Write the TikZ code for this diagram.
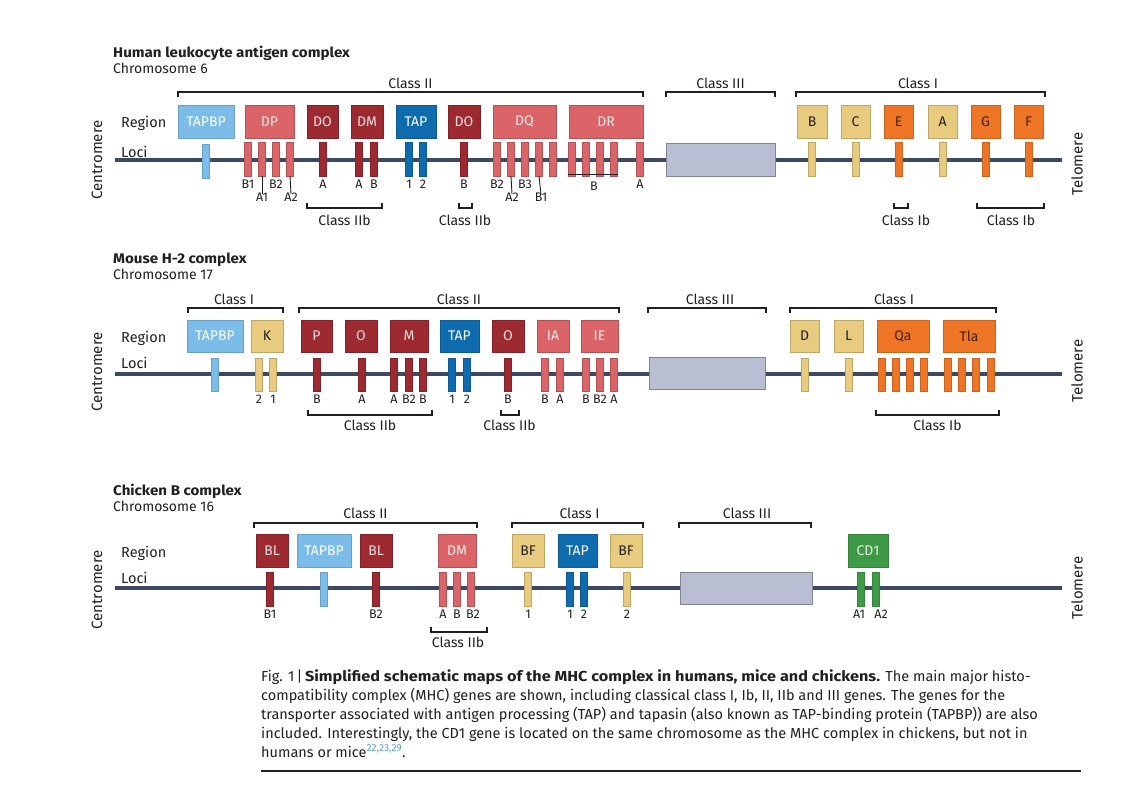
\documentclass[tikz,border=0pt]{standalone}
\usepackage{fontspec}
\setmainfont{Fira Sans}
\usepackage{tikz}

\definecolor{chromc}{HTML}{3D4863}
\definecolor{inkc}{HTML}{231F20}
\definecolor{ltbc}{HTML}{7BBDE8}
\definecolor{salc}{HTML}{DA6468}
\definecolor{winec}{HTML}{9E2A31}
\definecolor{tapc}{HTML}{0E6BAE}
\definecolor{sandc}{HTML}{E8CB7E}
\definecolor{orngc}{HTML}{EE7526}
\definecolor{grnc}{HTML}{3F9A47}
\definecolor{cthreec}{HTML}{B9BED2}
\definecolor{refc}{HTML}{5B9BD5}

\newcommand{\headbold}{\bfseries\addfontfeature{FakeStretch=1.08}}
\newcommand{\capbold}[1]{{\bfseries\addfontfeature{FakeStretch=1.12}#1}}

\tikzset{
  chrom/.style={line width=4pt, draw=chromc},
  region/.style={inner sep=0pt, minimum height=33pt, font=\fontsize{14}{15}\selectfont},
  locus/.style={inner sep=0pt, minimum width=7pt, minimum height=34pt},
  loc/.style={inner sep=0pt, text=inkc, font=\fontsize{12.5}{13}\selectfont},
  lab/.style={loc, yshift=-3.5pt},
  ltb/.style={fill=ltbc, draw=ltbc!85!black, text=white},
  sal/.style={fill=salc, draw=salc!82!black, text=white!85!salc},
  wine/.style={fill=winec, draw=winec!82!black, text=white!85!winec},
  tapb/.style={fill=tapc, draw=tapc!85!black, text=white},
  sand/.style={fill=sandc, draw=sandc!82!black, text=inkc},
  orng/.style={fill=orngc, draw=orngc!85!black, text=black!70!orngc},
  grn/.style={fill=grnc, draw=grnc!85!black, text=white!85!grnc},
  cthree/.style={fill=cthreec, draw=cthreec!70!black, inner sep=0pt},
  brk/.style={draw=inkc, line width=1.1pt},
  cls/.style={anchor=base, inner sep=0pt, text=inkc, font=\fontsize{14}{15}\selectfont},
  head/.style={anchor=base west, inner sep=0pt, text=inkc, font=\fontsize{14}{15}\selectfont},
  rowlab/.style={anchor=base west, inner sep=0pt, text=inkc, font=\fontsize{14.5}{15}\selectfont},
  side/.style={rotate=90, inner sep=0pt, text=inkc, font=\fontsize{15}{15}\selectfont},
  capt/.style={anchor=base west, inner sep=0pt, text=inkc, font=\fontsize{14.5}{19}\selectfont}
}

\begin{document}
\begin{tikzpicture}[x=1pt,y=-1pt]
\useasboundingbox[fill=white] (0,0) rectangle (1131,790);

% human
\node[head] (htitle) at (113,57) {\headbold Human leukocyte antigen complex};
\node[head] (hchrom) at (113,73) {Chromosome 6};
\node[rowlab] (hreg) at (121,127) {Region};
\node[rowlab] (hloci) at (121,157) {Loci};
\node[side] (hcen) at (97,160) {Centromere};
\node[side] (htel) at (1077,164) {Telomere};
\coordinate (hl) at (115,160);
\coordinate (hr) at (1062,160);
\draw[chrom] (hl) -- (hr);

\draw[brk] (178,97) -- (178,92) -- (643,92) -- (643,97);
\draw[brk] (666,97) -- (666,92) -- (775,92) -- (775,97);
\draw[brk] (796,97) -- (796,92) -- (1045,92) -- (1045,97);
\node[cls] (hcII) at (410.5,88) {Class II};
\node[cls] (hcIII) at (720.5,88) {Class III};
\node[cls] (hcI) at (918,88) {Class I};

\node[region, ltb, minimum width=56pt] (hTAPBP) at (206,121.5) {TAPBP};
\node[region, sal, minimum width=49pt] (hDP) at (269.5,121.5) {DP};
\node[region, wine, minimum width=31pt] (hDO) at (322.5,121.5) {DO};
\node[region, wine, minimum width=32pt] (hDM) at (367,121.5) {DM};
\node[region, tapb, minimum width=40pt] (hTAP) at (416,121.5) {TAP};
\node[region, wine, minimum width=32pt] (hDOb) at (464,121.5) {DO};
\node[region, sal, minimum width=63pt] (hDQ) at (524.5,121.5) {DQ};
\node[region, sal, minimum width=74pt] (hDR) at (606,121.5) {DR};
\node[region, sand, minimum width=30pt] (hB) at (812,121.5) {B};
\node[region, sand, minimum width=29pt] (hC) at (855.5,121.5) {C};
\node[region, orng, minimum width=29pt] (hE) at (898.5,121.5) {E};
\node[region, sand, minimum width=29pt] (hA) at (942.5,121.5) {A};
\node[region, orng, minimum width=29pt] (hG) at (985.5,121.5) {G};
\node[region, orng, minimum width=29pt] (hF) at (1028.5,121.5) {F};

\node[locus, ltb] (htapbp) at (205.5,161) {};
\node[locus, sal, label={[lab]below:B1}] (hdp1) at (248,159) {};
\node[locus, sal] (hdp2) at (262,159) {};
\node[locus, sal, label={[lab]below:B2}] (hdp3) at (276,159) {};
\node[locus, sal] (hdp4) at (290,159) {};
\node[locus, wine, label={[lab]below:A}] (hdo1) at (323,159) {};
\node[locus, wine, label={[lab]below:A}] (hdm1) at (359,159) {};
\node[locus, wine, label={[lab]below:B}] (hdm2) at (374,159) {};
\node[locus, tapb, label={[lab]below:1}] (htap1) at (409,159) {};
\node[locus, tapb, label={[lab]below:2}] (htap2) at (423,159) {};
\node[locus, wine, label={[lab]below:B}] (hdo2) at (464,159) {};
\node[locus, sal, label={[lab]below:B2}] (hdq1) at (497,159) {};
\node[locus, sal] (hdq2) at (511,159) {};
\node[locus, sal, label={[lab]below:B3}] (hdq3) at (525,159) {};
\node[locus, sal] (hdq4) at (539,159) {};
\node[locus, sal] (hdq5) at (553,159) {};
\node[locus, sal] (hdr1) at (572,159) {};
\node[locus, sal] (hdr2) at (586,159) {};
\node[locus, sal] (hdr3) at (600,159) {};
\node[locus, sal] (hdr4) at (614,159) {};
\node[locus, sal, label={[lab]below:A}] (hdr5) at (640,159) {};
\node[cthree, minimum width=109pt, minimum height=33pt] (hclassthree) at (720.5,159.5) {};
\node[locus, sand] (hb1) at (812,159) {};
\node[locus, sand] (hc1) at (856,159) {};
\node[locus, orng] (he1) at (899,159) {};
\node[locus, sand] (ha1) at (943,159) {};
\node[locus, orng] (hg1) at (986,159) {};
\node[locus, orng] (hf1) at (1029,159) {};

\node[loc, anchor=base] (hA1) at (262,201) {A1};
\node[loc, anchor=base] (hA2) at (291,201) {A2};
\node[loc, anchor=base] (hdqA2) at (512,201) {A2};
\node[loc, anchor=base] (hdqB1) at (541,201) {B1};
\node[loc, anchor=base] (hdrB) at (594,190) {B};
\draw[brk, line width=0.9pt] (hdp2.south) -- ([yshift=-2pt]hA1.north);
\draw[brk, line width=0.9pt] (hdp4.south) -- ([yshift=-2pt]hA2.north);
\draw[brk, line width=0.9pt] (hdq2.south) -- ([yshift=-2pt]hdqA2.north);
\draw[brk, line width=0.9pt] (hdq4.south) -- ([yshift=-2pt]hdqB1.north);
\draw[brk, line width=0.9pt] ([yshift=2pt]hdr1.south west) -- ([yshift=2pt]hdr4.south east);

\draw[brk] (307,203) -- (307,208) -- (382,208) -- (382,203);
\draw[brk] (459,203) -- (459,208) -- (472,208) -- (472,203);
\draw[brk] (894,203) -- (894,208) -- (908,208) -- (908,203);
\draw[brk] (977,203) -- (977,208) -- (1044,208) -- (1044,203);
\node[cls] (hcIIb) at (344.5,225) {Class IIb};
\node[cls] (hcIIbb) at (465,225) {Class IIb};
\node[cls] (hcIb) at (906,225) {Class Ib};
\node[cls] (hcIbb) at (1011,225) {Class Ib};

% mouse
\node[head] (mtitle) at (113,263) {\headbold Mouse H-2 complex};
\node[head] (mchrom) at (113,279) {Chromosome 17};
\node[rowlab] (mreg) at (121,342) {Region};
\node[rowlab] (mloci) at (121,368) {Loci};
\node[side] (mcen) at (97,372) {Centromere};
\node[side] (mtel) at (1077,371) {Telomere};
\coordinate (ml) at (115,374);
\coordinate (mr) at (1062,374);
\draw[chrom] (ml) -- (mr);

\draw[brk] (188,313) -- (188,308) -- (283,308) -- (283,313);
\draw[brk] (299,313) -- (299,308) -- (619,308) -- (619,313);
\draw[brk] (648,313) -- (648,308) -- (766,308) -- (766,313);
\draw[brk] (790,313) -- (790,308) -- (996,308) -- (996,313);
\node[cls] (mcI) at (234,304) {Class I};
\node[cls] (mcII) at (459,304) {Class II};
\node[cls] (mcIII) at (710,304) {Class III};
\node[cls] (mcIb) at (894,304) {Class I};

\node[region, ltb, minimum width=56pt, minimum height=32pt] (mTAPBP) at (215,336) {TAPBP};
\node[region, sand, minimum width=32pt, minimum height=32pt] (mK) at (267,336) {K};
\node[region, wine, minimum width=31pt, minimum height=32pt] (mP) at (316.5,336) {P};
\node[region, wine, minimum width=32pt, minimum height=32pt] (mO) at (361,336) {O};
\node[region, wine, minimum width=38pt, minimum height=32pt] (mM) at (409,336) {M};
\node[region, tapb, minimum width=39pt, minimum height=32pt] (mTAP) at (459.5,336) {TAP};
\node[region, wine, minimum width=32pt, minimum height=32pt] (mOb) at (508,336) {O};
\node[region, sal, minimum width=32pt, minimum height=32pt] (mIA) at (553,336) {IA};
\node[region, sal, minimum width=37pt, minimum height=32pt] (mIE) at (599.5,336) {IE};
\node[region, sand, minimum width=29pt, minimum height=32pt] (mD) at (804.5,336) {D};
\node[region, sand, minimum width=29pt, minimum height=32pt] (mL) at (848.5,336) {L};
\node[region, orng, minimum width=52pt, minimum height=32pt] (mQa) at (903,336) {Qa};
\node[region, orng, minimum width=52pt, minimum height=32pt] (mTla) at (969,336) {Tla};

\node[locus, ltb, minimum height=33pt] (mtapbp) at (215,374.5) {};
\node[locus, sand, minimum height=33pt, label={[lab]below:2}] (mk1) at (259,374.5) {};
\node[locus, sand, minimum height=33pt, label={[lab]below:1}] (mk2) at (273,374.5) {};
\node[locus, wine, minimum height=33pt, label={[lab]below:B}] (mp1) at (317,374.5) {};
\node[locus, wine, minimum height=33pt, label={[lab]below:A}] (mo1) at (362,374.5) {};
\node[locus, wine, minimum height=33pt, label={[lab]below:A}] (mm1) at (394,374.5) {};
\node[locus, wine, minimum height=33pt, label={[lab]below:B2}] (mm2) at (409,374.5) {};
\node[locus, wine, minimum height=33pt, label={[lab]below:B}] (mm3) at (423,374.5) {};
\node[locus, tapb, minimum height=33pt, label={[lab]below:1}] (mtap1) at (452,374.5) {};
\node[locus, tapb, minimum height=33pt, label={[lab]below:2}] (mtap2) at (467,374.5) {};
\node[locus, wine, minimum height=33pt, label={[lab]below:B}] (mo2) at (508,374.5) {};
\node[locus, sal, minimum height=33pt, label={[lab]below:B}] (mia1) at (545,374.5) {};
\node[locus, sal, minimum height=33pt, label={[lab]below:A}] (mia2) at (560,374.5) {};
\node[locus, sal, minimum height=33pt, label={[lab]below:B}] (mie1) at (586,374.5) {};
\node[locus, sal, minimum height=33pt, label={[lab]below:B2}] (mie2) at (600,374.5) {};
\node[locus, sal, minimum height=33pt, label={[lab]below:A}] (mie3) at (614,374.5) {};
\node[cthree, minimum width=116pt, minimum height=32pt] (mclassthree) at (707,373) {};
\node[locus, sand, minimum height=33pt] (md1) at (805,374.5) {};
\node[locus, sand, minimum height=33pt] (ml1) at (849,374.5) {};
\node[locus, orng, minimum height=33pt] (mqa1) at (882,374.5) {};
\node[locus, orng, minimum height=33pt] (mqa2) at (896,374.5) {};
\node[locus, orng, minimum height=33pt] (mqa3) at (910,374.5) {};
\node[locus, orng, minimum height=33pt] (mqa4) at (924,374.5) {};
\node[locus, orng, minimum height=33pt] (mtla1) at (948,374.5) {};
\node[locus, orng, minimum height=33pt] (mtla2) at (962,374.5) {};
\node[locus, orng, minimum height=33pt] (mtla3) at (976,374.5) {};
\node[locus, orng, minimum height=33pt] (mtla4) at (991,374.5) {};

\draw[brk] (308,410) -- (308,415) -- (432,415) -- (432,410);
\draw[brk] (501,410) -- (501,415) -- (519,415) -- (519,410);
\draw[brk] (876,410) -- (876,415) -- (999,415) -- (999,410);
\node[cls] (mcIIb) at (370,430) {Class IIb};
\node[cls] (mcIIbb) at (509.5,430) {Class IIb};
\node[cls] (mcIbb) at (937.5,430) {Class Ib};

% chicken
\node[head] (ctitle) at (113,495) {\headbold Chicken B complex};
\node[head] (cchrom) at (113,511) {Chromosome 16};
\node[rowlab] (creg) at (121,557) {Region};
\node[rowlab] (cloci) at (121,583) {Loci};
\node[side] (ccen) at (97,590) {Centromere};
\node[side] (ctel) at (1077,588) {Telomere};
\coordinate (cl) at (115,588);
\coordinate (cr) at (1062,588);
\draw[chrom] (cl) -- (cr);

\draw[brk] (254,528) -- (254,523) -- (477,523) -- (477,528);
\draw[brk] (512,528) -- (512,523) -- (643,523) -- (643,528);
\draw[brk] (679,528) -- (679,523) -- (811,523) -- (811,528);
\node[cls] (ccII) at (365.5,518) {Class II};
\node[cls] (ccI) at (579.5,518) {Class I};
\node[cls] (ccIII) at (747,518) {Class III};

\node[region, wine, minimum width=32pt] (cBL) at (272,550.5) {BL};
\node[region, ltb, minimum width=54pt] (cTAPBP) at (324,550.5) {TAPBP};
\node[region, wine, minimum width=32pt] (cBLb) at (376,550.5) {BL};
\node[region, sal, minimum width=38pt] (cDM) at (457,550.5) {DM};
\node[region, sand, minimum width=32pt] (cBF) at (528,550.5) {BF};
\node[region, tapb, minimum width=39pt] (cTAP) at (577.5,550.5) {TAP};
\node[region, sand, minimum width=32pt] (cBFb) at (626,550.5) {BF};
\node[region, grn, minimum width=40pt] (cCD) at (868,550.5) {CD1};

\node[locus, wine, label={[lab]below:B1}] (cbl1) at (270,589) {};
\node[locus, ltb] (ctapbp) at (324,589.5) {};
\node[locus, wine, label={[lab]below:B2}] (cbl2) at (376,589) {};
\node[locus, sal, label={[lab]below:A}] (cdm1) at (443,589) {};
\node[locus, sal, label={[lab]below:B}] (cdm2) at (457,589) {};
\node[locus, sal, label={[lab, xshift=2pt]below:B2}] (cdm3) at (471,589) {};
\node[locus, sand, label={[lab]below:1}] (cbf1) at (528,589) {};
\node[locus, tapb, label={[lab]below:1}] (ctap1) at (570,589) {};
\node[locus, tapb, label={[lab]below:2}] (ctap2) at (584,589) {};
\node[locus, sand, label={[lab]below:2}] (cbf2) at (627,589) {};
\node[cthree, minimum width=132pt, minimum height=32pt] (cclassthree) at (746,588) {};
\node[locus, grn, label={[lab, xshift=-2pt]below:A1}] (ccd1) at (861,589) {};
\node[locus, grn, label={[lab, xshift=5pt]below:A2}] (ccd2) at (876,589) {};

\draw[brk] (431,627) -- (431,632) -- (487,632) -- (487,627);
\node[cls] (ccIIb) at (458,647) {Class IIb};

% caption
\node[capt] (cap1) at (261,681) {Fig. 1\,|\,\capbold{Simplified schematic maps of the MHC complex in humans, mice and chickens.} The main major histo-};
\node[capt] (cap2) at (261,700) {compatibility complex (MHC) genes are shown, including classical class I, Ib, II, IIb and III genes. The genes for the};
\node[capt] (cap3) at (261,719) {transporter associated with antigen processing (TAP) and tapasin (also known as TAP-binding protein (TAPBP)) are also};
\node[capt] (cap4) at (261,738) {included. Interestingly, the CD1 gene is located on the same chromosome as the MHC complex in chickens, but not in};
\node[capt] (cap5) at (261,757) {humans or mice\textsuperscript{\color{refc}22,23,29}.};
\draw[inkc, line width=1.2pt] (261,771) -- (1081,771);
\end{tikzpicture}
\end{document}
